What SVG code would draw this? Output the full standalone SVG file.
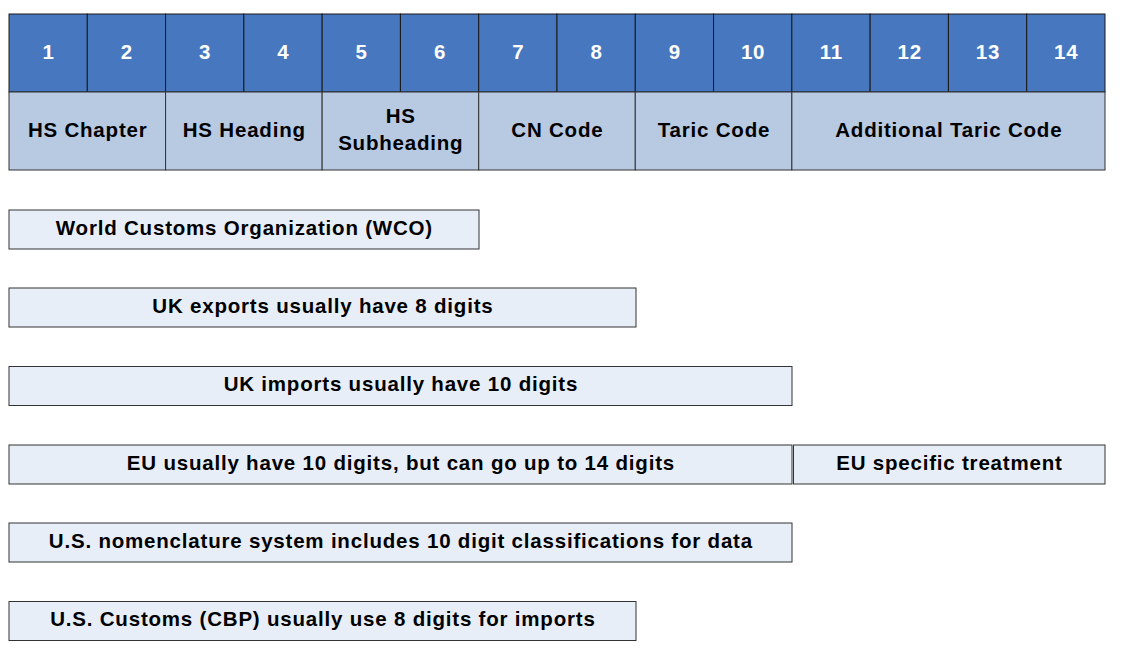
<svg xmlns="http://www.w3.org/2000/svg" width="1129" height="660" viewBox="0 0 1129 660">
<style>
text{font-family:"Liberation Sans",Arial,sans-serif;font-weight:bold;font-size:20.5px;letter-spacing:0.8px;text-anchor:middle}
.d rect{fill:#4677BF;stroke:#1a1a1a;stroke-width:1}
.d text{fill:#ffffff}
.l rect{fill:#B8C9E2;stroke:#333;stroke-width:1}
.b rect{fill:#E8EEF8;stroke:#333;stroke-width:1}
.l text,.b text{fill:#000}
</style>
<rect width="1129" height="660" fill="#fff"/>
<g class="d" id="digits">
<rect x="9" y="14" width="78.29" height="78"/><text x="48.5" y="59">1</text>
<rect x="87.29" y="14" width="78.29" height="78"/><text x="126.8" y="59">2</text>
<rect x="165.57" y="14" width="78.29" height="78"/><text x="205.1" y="59">3</text>
<rect x="243.86" y="14" width="78.29" height="78"/><text x="283.4" y="59">4</text>
<rect x="322.14" y="14" width="78.29" height="78"/><text x="361.7" y="59">5</text>
<rect x="400.43" y="14" width="78.29" height="78"/><text x="440" y="59">6</text>
<rect x="478.71" y="14" width="78.29" height="78"/><text x="518.3" y="59">7</text>
<rect x="557" y="14" width="78.29" height="78"/><text x="596.5" y="59">8</text>
<rect x="635.29" y="14" width="78.29" height="78"/><text x="674.8" y="59">9</text>
<rect x="713.57" y="14" width="78.29" height="78"/><text x="753.1" y="59">10</text>
<rect x="791.86" y="14" width="78.29" height="78"/><text x="831.4" y="59">11</text>
<rect x="870.14" y="14" width="78.29" height="78"/><text x="909.7" y="59">12</text>
<rect x="948.43" y="14" width="78.29" height="78"/><text x="988" y="59">13</text>
<rect x="1026.71" y="14" width="78.29" height="78"/><text x="1066.3" y="59">14</text>
</g>
<g class="l" id="hs-chapter"><rect x="9" y="92" width="156.57" height="78"/><text x="87.7" y="137">HS Chapter</text></g>
<g class="l" id="hs-heading"><rect x="165.57" y="92" width="156.57" height="78"/><text x="244.3" y="137">HS Heading</text></g>
<g class="l" id="hs-subheading"><rect x="322.14" y="92" width="156.57" height="78"/><text x="400.8" y="123">HS</text><text x="400.8" y="149.5">Subheading</text></g>
<g class="l" id="cn-code"><rect x="478.71" y="92" width="156.57" height="78"/><text x="557.4" y="137">CN Code</text></g>
<g class="l" id="taric-code"><rect x="635.29" y="92" width="156.57" height="78"/><text x="714" y="137">Taric Code</text></g>
<g class="l" id="additional-taric"><rect x="791.86" y="92" width="313.14" height="78"/><text x="948.8" y="137">Additional Taric Code</text></g>
<g class="b" id="wco"><rect x="9" y="210" width="470" height="39"/><text x="244.4" y="234.5">World Customs Organization (WCO)</text></g>
<g class="b" id="uk-exports"><rect x="9" y="288" width="627" height="39"/><text x="322.9" y="313">UK exports usually have 8 digits</text></g>
<g class="b" id="uk-imports"><rect x="9" y="366.5" width="783" height="39"/><text x="400.9" y="391">UK imports usually have 10 digits</text></g>
<g class="b" id="eu"><rect x="9" y="445" width="783" height="39"/><text x="400.9" y="469.5">EU usually have 10 digits, but can go up to 14 digits</text></g>
<g class="b" id="eu-specific"><rect x="793.5" y="445" width="311.5" height="39"/><text x="949.4" y="469.5">EU specific treatment</text></g>
<g class="b" id="us-nomenclature"><rect x="9" y="523" width="783" height="39"/><text x="400.9" y="548">U.S. nomenclature system includes 10 digit classifications for data</text></g>
<g class="b" id="us-customs"><rect x="9" y="601.5" width="627" height="39"/><text x="322.9" y="626">U.S. Customs (CBP) usually use 8 digits for imports</text></g>
<g id="connectors"/>
</svg>
